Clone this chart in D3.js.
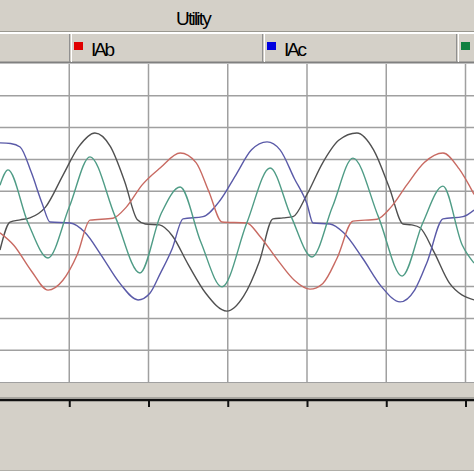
<!DOCTYPE html><html><head><meta charset="utf-8">
<script src="https://cdn.jsdelivr.net/npm/d3@7"></script>
<style>body{margin:0;background:#fff}svg{display:block}</style></head><body>
<svg id="c" width="474" height="474"></svg>
<script>
const title = "Utility";
const legendLabels = ["IAb","IAc",""];
const legendColors = ["#e00000","#0000e0","#108040"];
const timeTicks = [5,10,15,20,25,30];
const valueTicks = [-4,-3,-2,-1,0,1,2,3,4];
const seriesGrey = [[0.63,-0.85],[1.26,0.03],[1.9,0.1],[2.52,0.16],[3.5,0.5],[4.6,1.5],[5.6,2.4],[6.62,2.83],[7.6,2.4],[8.5,1.3],[9.3,0.1],[9.8,-0.03],[10.7,-0.06],[11.5,-0.4],[12.5,-1.3],[13.6,-2.2],[14.95,-2.77],[16.0,-2.3],[17.0,-1.2],[17.85,0.13],[18.5,0.16],[19.12,0.2],[20,0.9],[21,1.9],[22,2.6],[23.15,2.83],[24.2,2.3],[25.2,1.1],[26.06,-0.03],[26.6,-0.06],[27.13,-0.15],[28,-0.9],[29,-1.9],[30.54,-2.42]];
const seriesBlue = [[0.63,2.52],[1.3,2.5],[1.9,2.39],[2.6,1.6],[3.3,0.6],[3.79,0.03],[5.05,0],[6,-0.3],[7,-1.0],[8.2,-1.9],[9.34,-2.42],[10.1,-2.2],[10.73,-1.6],[11.5,-0.8],[12.18,0.13],[13.44,0.2],[14.5,0.7],[15.5,1.5],[16.5,2.3],[17.48,2.55],[18.3,2.3],[19.2,1.4],[20.0,0.6],[20.38,0.0],[21.45,-0.03],[22.3,-0.3],[23.5,-1.1],[24.7,-2.0],[25.87,-2.48],[26.8,-2.1],[27.6,-1.2],[28.58,0.13],[29.84,0.2],[30.54,0.41]];
const seriesRed = [[0.63,-0.31],[1.5,-0.7],[2.6,-1.5],[3.66,-2.11],[4.6,-1.8],[5.5,-1.0],[6.31,0.09],[7.76,0.15],[8.6,0.5],[9.6,1.2],[10.73,1.73],[12.0,2.2],[13.0,1.9],[13.8,1.0],[14.64,0.03],[16.2,0.0],[17.0,-0.4],[18.2,-1.2],[19.2,-1.8],[20.19,-2.08],[21.0,-1.9],[21.9,-1.1],[22.9,0.06],[24.42,0.12],[25.3,0.5],[26.3,1.2],[27.4,1.9],[28.58,2.2],[29.6,1.7],[30.54,0.9]];
const seriesGreen = [[0.63,1.19],[1.14,1.67],[2.4,0],[3.66,-1.1],[5.0,0.5],[6.31,2.08],[7.9,0.2],[9.46,-1.57],[10.8,0.3],[12.0,1.13],[13.3,-0.6],[14.64,-2.01],[16.2,0],[17.67,1.73],[19.0,0.2],[20.32,-1.07],[21.6,0.5],[22.9,2.04],[24.5,0.2],[26.0,-1.67],[27.3,0],[28.58,1.16],[29.8,-0.7],[30.54,-1.26]];

const svg = d3.select("#c");
const pTop=64, pBot=382;
const x = d3.scaleLinear().domain([0,30]).range([-10,465.5]);
const y = d3.scaleLinear().domain([-5,5]).range([pBot,pTop]);
const bg="#d4d0c8";
svg.append("rect").attr("x",0).attr("y",0).attr("width",474).attr("height",31).attr("fill",bg);
svg.append("line").attr("x1",0).attr("x2",474).attr("y1",31.5).attr("y2",31.5).attr("stroke","#9a9890");
svg.append("text").attr("x",193).attr("y",25).attr("text-anchor","middle").attr("font-family","Liberation Sans, Arial").attr("font-size",19).attr("letter-spacing",-1.8).text(title);
svg.append("rect").attr("x",0).attr("y",33).attr("width",474).attr("height",29).attr("fill",bg);
svg.append("line").attr("x1",0).attr("x2",474).attr("y1",33.5).attr("y2",33.5).attr("stroke","#fff");
svg.append("line").attr("x1",0).attr("x2",474).attr("y1",62.5).attr("y2",62.5).attr("stroke","#808080").attr("stroke-width",2);
const cells=[71,264,458];
cells.forEach((cx,i)=>{
  svg.append("line").attr("x1",cx-1.5).attr("x2",cx-1.5).attr("y1",34).attr("y2",62).attr("stroke","#909090");
  svg.append("line").attr("x1",cx+0.5).attr("x2",cx+0.5).attr("y1",34).attr("y2",62).attr("stroke","#fff");
  svg.append("rect").attr("x",cx+3).attr("y",42).attr("width",9).attr("height",8).attr("fill",legendColors[i]);
  svg.append("text").attr("x",cx+20).attr("y",56).attr("font-family","Liberation Sans, Arial").attr("font-size",19).attr("letter-spacing",-2.2).text(legendLabels[i]);
});
const g=svg.append("g");
g.selectAll(".h").data(valueTicks).join("line").attr("x1",0).attr("x2",474).attr("y1",d=>y(d)).attr("y2",d=>y(d)).attr("stroke","#a0a0a0").attr("stroke-width",1.5);
g.selectAll(".v").data(timeTicks).join("line").attr("x1",d=>x(d)).attr("x2",d=>x(d)).attr("y1",pTop).attr("y2",pBot).attr("stroke","#a0a0a0").attr("stroke-width",1.5);
svg.append("clipPath").attr("id","cp").append("rect").attr("x",0).attr("y",pTop).attr("width",474).attr("height",pBot-pTop);
const line=d3.line().x(d=>x(d[0])).y(d=>y(d[1])).curve(d3.curveMonotoneX);
const lines=svg.append("g").attr("clip-path","url(#cp)");
[[seriesGrey,"#505050"],[seriesBlue,"#5a5aa8"],[seriesRed,"#c86a62"],[seriesGreen,"#4f9c86"]].forEach(([s,c])=>{
  lines.append("path").attr("d",line(s)).attr("fill","none").attr("stroke",c).attr("stroke-width",1.4);
});
svg.append("rect").attr("x",0).attr("y",pBot).attr("width",474).attr("height",88).attr("fill",bg);
svg.append("line").attr("x1",0).attr("x2",474).attr("y1",pBot+0.5).attr("y2",pBot+0.5).attr("stroke","#a0a0a0");
svg.append("line").attr("x1",0).attr("x2",474).attr("y1",397.5).attr("y2",397.5).attr("stroke","#a8a6a0");
const ax=svg.append("g").attr("transform","translate(0,400)").call(d3.axisBottom(x).tickValues(timeTicks).tickSize(7).tickFormat(""));
ax.select(".domain").attr("stroke","#111").attr("stroke-width",2.5).attr("d","M0,0H474");
ax.selectAll(".tick line").attr("stroke","#111").attr("stroke-width",2);
svg.append("line").attr("x1",0).attr("x2",474).attr("y1",470.5).attr("y2",470.5).attr("stroke","#b0aea8");
</script></body></html>
